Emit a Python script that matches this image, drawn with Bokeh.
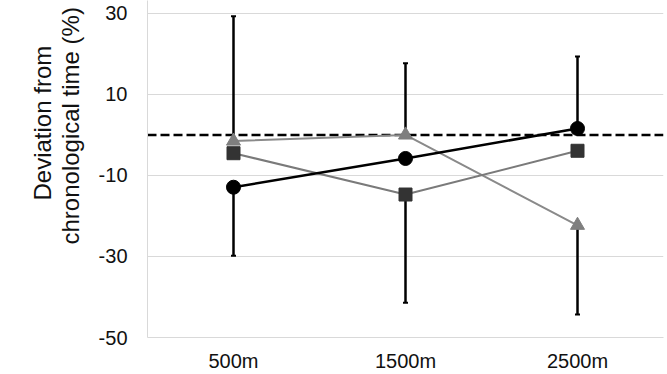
from bokeh.plotting import figure
from bokeh.models import (ColumnDataSource, FactorRange, FixedTicker, Span,
                          Whisker, TeeHead, Title, PrintfTickFormatter)
from bokeh.embed import file_html
from bokeh.resources import INLINE

# ---- data ----
categories = ["500m", "1500m", "2500m"]
circle_vals = [-12.9, -5.8, 1.6]
square_vals = [-4.5, -14.7, -3.9]
triangle_vals = [-1.5, 0.0, -22.3]
err_high = [29.3, 17.7, 19.4]
err_low = [-29.8, -41.4, -44.3]
y_ticks = [-50, -30, -10, 10, 30]
y_title_lines = ["Deviation from", "chronological time (%)"]

FONT = "Liberation Sans"

p = figure(width=667, height=374, x_range=FactorRange(*categories),
           y_range=(-50, 33.2), output_backend="svg", toolbar_location=None,
           min_border_left=147, min_border_right=4, min_border_top=0,
           min_border_bottom=37)
p.outline_line_color = None
p.background_fill_color = "white"
p.border_fill_color = "white"

# axes
p.yaxis.ticker = FixedTicker(ticks=y_ticks)
p.yaxis.formatter = PrintfTickFormatter(format="%d")
p.ygrid.ticker = FixedTicker(ticks=y_ticks)
p.ygrid.grid_line_color = "#d9d9d9"
p.ygrid.grid_line_width = 1
p.xgrid.grid_line_color = None
for ax in (p.xaxis, p.yaxis):
    ax.axis_line_color = "#d9d9d9"
    ax.major_tick_line_color = None
    ax.minor_tick_line_color = None
    ax.major_tick_out = 0
    ax.major_tick_in = 0
    ax.major_label_text_font = FONT
    ax.major_label_text_font_size = "20px"
    ax.major_label_text_color = "#111111"
p.yaxis.major_label_standoff = 20
p.xaxis.major_label_standoff = 12

# zero reference line
zero = Span(location=0, dimension="width", line_color="black",
            line_width=2.5, line_dash="9 4", level="underlay")
p.add_layout(zero)

# error bars: upper from top marker, lower from bottom marker
tops = [max(a, b, c) for a, b, c in zip(circle_vals, square_vals, triangle_vals)]
bots = [min(a, b, c) for a, b, c in zip(circle_vals, square_vals, triangle_vals)]
esrc = ColumnDataSource(dict(x=categories, top=tops, bot=bots,
                             hi=err_high, lo=err_low))
w_up = Whisker(source=esrc, base="x", lower="top", upper="hi",
               dimension="height", line_color="black", line_width=2.5,
               upper_head=TeeHead(size=5, line_width=2, line_color="black"),
               lower_head=None, level="underlay")
w_dn = Whisker(source=esrc, base="x", lower="lo", upper="bot",
               dimension="height", line_color="black", line_width=2.5,
               lower_head=TeeHead(size=5, line_width=2, line_color="black"),
               upper_head=None, level="underlay")
p.add_layout(w_up)
p.add_layout(w_dn)

src = ColumnDataSource(dict(x=categories, c=circle_vals, s=square_vals,
                            t=triangle_vals))

# triangle series (gray)
p.line("x", "t", source=src, line_color="#8a8a8a", line_width=2)
p.scatter("x", "t", source=src, marker="triangle", size=14,
          fill_color="#7f7f7f", line_color="#7f7f7f")
# square series (dark gray markers)
p.line("x", "s", source=src, line_color="#7a7a7a", line_width=2)
p.scatter("x", "s", source=src, marker="square", size=13,
          fill_color="#333333", line_color="#333333")
# circle series (black)
p.line("x", "c", source=src, line_color="black", line_width=2.5)
p.scatter("x", "c", source=src, marker="circle", size=14,
          fill_color="black", line_color="black")

# two-line rotated y-axis title (inner line first = closest to the axis)
p.add_layout(Title(text=y_title_lines[1], align="left", offset=93,
                   standoff=23, vertical_align="bottom",
                   text_font=FONT, text_font_size="24px",
                   text_font_style="normal", text_color="#111111"), "left")
p.add_layout(Title(text=y_title_lines[0], align="left", offset=137,
                   standoff=-25, vertical_align="bottom",
                   text_font=FONT, text_font_size="24px",
                   text_font_style="normal", text_color="#111111"), "left")

open("out.html", "w").write(file_html(p, INLINE))
